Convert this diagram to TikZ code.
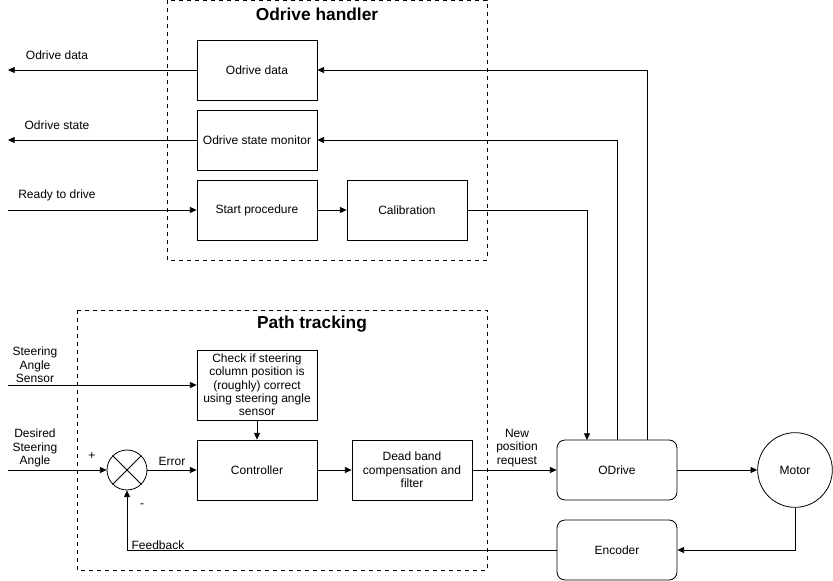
\documentclass[tikz,border=0pt]{standalone}
\usepackage{fontspec}
\setmainfont{Liberation Sans}
\usetikzlibrary{arrows.meta}
\begin{document}
\begin{tikzpicture}[x=0.75pt,y=-0.75pt,
  box/.style={draw,minimum width=90pt,minimum height=45pt,inner sep=1pt,font=\fontsize{9}{10}\selectfont,align=center},
  rbox/.style={box,rounded corners=6pt},
  grp/.style={draw,dashed},
  lbl/.style={font=\fontsize{9}{10}\selectfont,align=center},
  ttl/.style={font=\fontsize{13}{15}\selectfont\bfseries},
  arr/.style={-{Triangle[length=5pt,width=4.5pt]}},
  every path/.style={line width=0.6pt}]
\useasboundingbox (0,0) rectangle (833,581);
\draw[grp] (167,0) rectangle (487,260);
\node[ttl] (t1) at (317,14) {Odrive handler};
\draw[grp] (77,310) rectangle (487,570);
\node[ttl] (t2) at (312,324) {Path tracking};
\node[box] (od) at (257,70) {Odrive data};
\node[box] (osm) at (257,140) {Odrive state monitor};
\node[box] (sp) at (257,210) {Start procedure};
\node[box] (cal) at (407,210) {Calibration};
\node[box,minimum height=52.5pt] (chk) at (257,385) {Check if steering\\column position is\\(roughly) correct\\using steering angle\\sensor};
\node[box] (ctl) at (257,470) {Controller};
\node[box] (db) at (412,470) {Dead band\\compensation and\\filter};
\node[rbox] (odr) at (617,470) {ODrive};
\node[rbox] (enc) at (617,550) {Encoder};
\node[draw,circle,minimum size=56pt,inner sep=0pt,font=\fontsize{9}{10}\selectfont] (mot) at (795,470) {Motor};
\node[draw,circle,minimum size=30pt,inner sep=0pt] (sum) at (127,470) {};
\draw (sum.north west) -- (sum.south east) (sum.north east) -- (sum.south west);
\coordinate (e1) at (8,70); \coordinate (e2) at (8,140); \coordinate (e3) at (8,210);
\coordinate (e4) at (8,385); \coordinate (e5) at (8,470);
\draw[arr] (od) -- (e1);
\draw[arr] (osm) -- (e2);
\draw[arr] (e3) -- (sp);
\draw[arr] (sp) -- (cal);
\node[lbl] (l1) at (57,55) {Odrive data};
\node[lbl] (l2) at (57,125) {Odrive state};
\node[lbl] (l3) at (57,195) {Ready to drive};
\node[lbl] (l4) at (35,365) {Steering\\Angle\\Sensor};
\node[lbl] (l5) at (35,448) {Desired\\Steering\\Angle};
\draw[arr] (e4) -- (chk.west |- e4);
\draw[arr] (e5) -- (sum);
\node[lbl] (pl) at (92,456) {+};
\node[lbl] (mi) at (142,506) {-};
\draw[arr] (sum) -- node[lbl,above] {Error} (ctl);
\draw[arr] (chk) -- (ctl);
\draw[arr] (ctl) -- (db);
\draw[arr] (db) -- (odr);
\node[lbl] (npr) at (517,448) {New\\position\\request};
\draw[arr] (odr) -- (mot);
\draw[arr] (mot.south) |- (enc);
\draw[arr] (enc) -| (sum.south);
\node[lbl] (fb) at (158,545) {Feedback};
\draw[arr] (cal) -| (587,440);
\draw[arr] (617,440) |- (osm);
\draw[arr] (647,440) |- (od);
\end{tikzpicture}
\end{document}
